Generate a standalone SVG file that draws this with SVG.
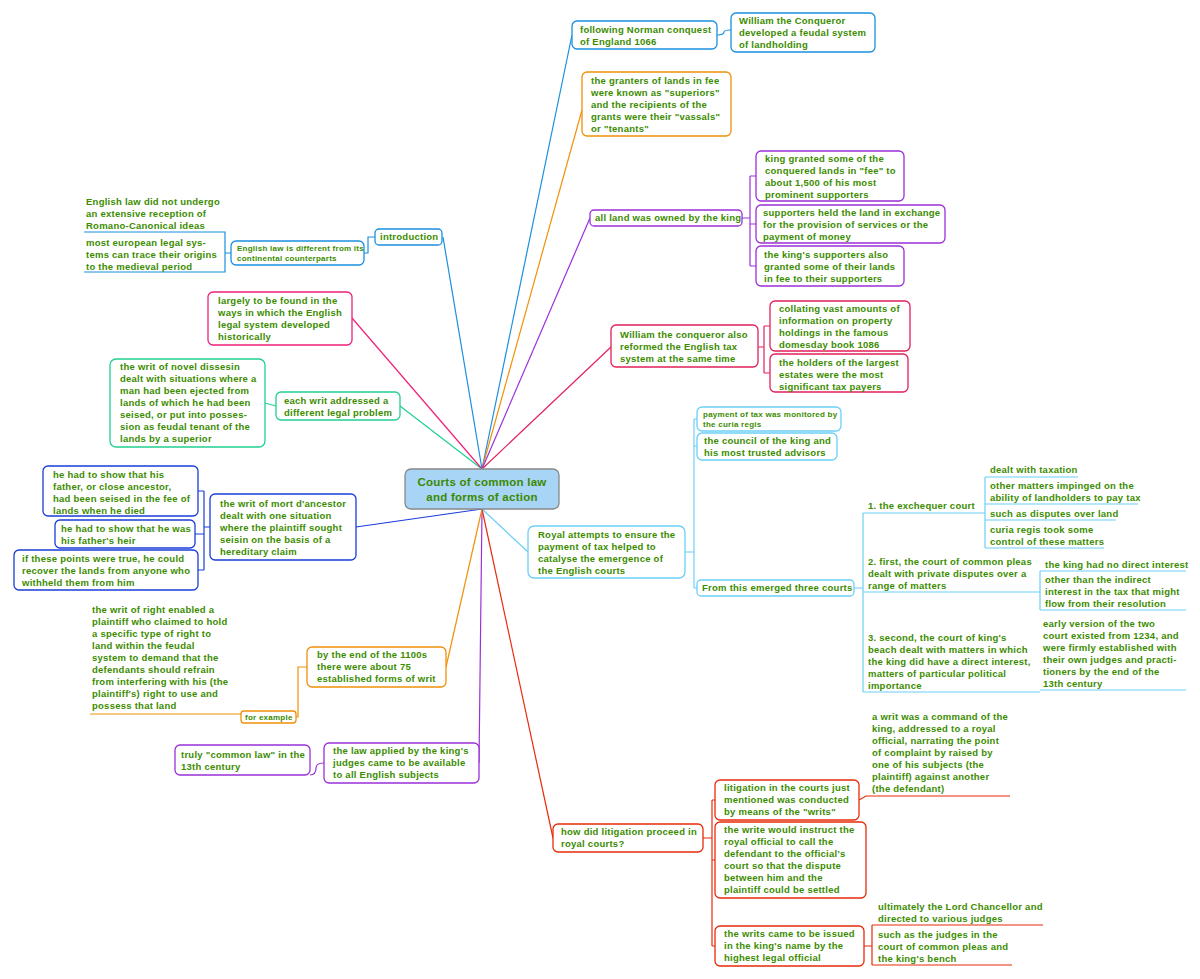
<svg xmlns="http://www.w3.org/2000/svg" width="1200" height="979" viewBox="0 0 1200 979">
<style>
text{font-family:"Liberation Sans",Arial,sans-serif;font-weight:bold;font-size:9.5px;fill:#3c8c00;letter-spacing:0.25px}
.s{font-size:8px}
.c{font-size:11.5px;fill:#3a8a00}
rect{fill:#fff;stroke-width:1.3}
path{fill:none;stroke-width:1.2}
.b1{stroke:#1a90e0}.or{stroke:#f0900a}.pu{stroke:#9b30d9}.cr{stroke:#e0205a}.lb{stroke:#6cd0f5}.rd{stroke:#e82a0a}.db{stroke:#1a3cd9}.gr{stroke:#20d090}.pk{stroke:#f0207a}
</style>
<rect width="1200" height="979" fill="#fff" stroke="none"/>
<g id="connectors">
<path class="b1" d="M482 469 L572 35"/><path class="b1" d="M717 35 Q724 35 724 32 Q724 30 731 30"/>
<path class="or" d="M482 469 L582 110"/>
<path class="pu" d="M482 469 L590 218"/>
<path class="pu" d="M742 218 L750 218 M750 176 L750 266 M750 176 Q750 176 756 176 M750 224 L756 224 M750 266 L756 266"/>
<path class="cr" d="M482 469 L611 347"/>
<path class="cr" d="M758 347 L764 347 M764 326 L764 373 M764 326 L770 326 M764 373 L770 373"/>
<path class="lb" d="M482 509 L528 552"/>
<path class="lb" d="M685 552 L694 552 M694 419 L694 588 M694 419 L697 419 M694 446 L697 446 M694 588 L697 588"/>
<path class="lb" d="M854 588 L863 588 M863 513 L863 692 M863 513 L978 513 M863 592 L1038 592 M863 692 L1040 692"/>
<path class="lb" d="M978 513 L985 513 M985 477 L985 548 M985 477 L1078 477 M985 504 L1138 504 M985 520 L1116 520 M985 548 L1104 548"/>
<path class="lb" d="M1038 592 L1040 592 M1040 571 L1040 610 M1040 571 L1186 571 M1040 610 L1186 610"/>
<path class="lb" d="M1040 690 L1186 690"/>
<path class="rd" d="M482 509 L553 838"/>
<path class="rd" d="M703 838 L712 838 M712 800 L712 946 M712 800 L715 800 M712 860 L715 860 M712 946 L715 946"/>
<path class="rd" d="M859 800 L866 796 L1010 796"/>
<path class="rd" d="M864 946 L872 946 M872 925 L872 965 M872 925 L1043 925 M872 965 L1012 965"/>
<path class="pu" d="M482 509 L479 763"/>
<path class="pu" d="M324 763 Q316 763 316 768 Q316 775 310 775"/>
<path class="or" d="M482 509 L446 667"/>
<path class="or" d="M307 667 L298 667 L298 717 L296 717 M241 714 L90 714"/>
<path class="db" d="M482 509 L356 527"/>
<path class="db" d="M210 527 L204 527 M204 491 L204 570 M204 491 L198 491 M204 534 L195 534 M204 570 L198 570"/>
<path class="gr" d="M482 469 L400 406"/><path class="gr" d="M276 406 L265 403"/>
<path class="pk" d="M482 469 L352 318"/>
<path class="b1" d="M482 469 L443 237 M375 237 L368 237 L368 253 L364 253 M231 253 L225 253 L225 232 L84 232 M225 253 L225 272 L84 272"/>
</g>
<g id="center"><rect x="405" y="469" width="154" height="40" rx="6" style="fill:#a8d4f5;stroke:#888"/><text class="c" x="482" y="486" text-anchor="middle">Courts of common law</text><text class="c" x="482" y="501" text-anchor="middle">and forms of action</text></g>
<g id="n1"><rect class="b1" x="572" y="21" width="145" height="28" rx="5"/><text x="580" y="33">following Norman conquest</text><text x="580" y="45">of England 1066</text></g>
<g id="n1a"><rect class="b1" x="731" y="13" width="144" height="39" rx="5"/><text x="739" y="24">William the Conqueror</text><text x="739" y="36">developed a feudal system</text><text x="739" y="48">of landholding</text></g>
<g id="n2"><rect class="or" x="582" y="72" width="149" height="64" rx="5"/><text x="591" y="84">the granters of lands in fee</text><text x="591" y="96">were known as "superiors"</text><text x="591" y="108">and the recipients of the</text><text x="591" y="120">grants were their "vassals"</text><text x="591" y="132">or "tenants"</text></g>
<g id="n3"><rect class="pu" x="590" y="210" width="152" height="16" rx="4"/><text x="595" y="221">all land was owned by the king</text></g>
<g id="n3a"><rect class="pu" x="756" y="151" width="148" height="50" rx="5"/><text x="765" y="162">king granted some of the</text><text x="765" y="174">conquered lands in "fee" to</text><text x="765" y="186">about 1,500 of his most</text><text x="765" y="198">prominent supporters</text></g>
<g id="n3b"><rect class="pu" x="756" y="205" width="189" height="38" rx="5"/><text x="763" y="216">supporters held the land in exchange</text><text x="763" y="228">for the provision of services or the</text><text x="763" y="240">payment of money</text></g>
<g id="n3c"><rect class="pu" x="756" y="246" width="148" height="40" rx="5"/><text x="764" y="258">the king's supporters also</text><text x="764" y="270">granted some of their lands</text><text x="764" y="282">in fee to their supporters</text></g>
<g id="n4"><rect class="cr" x="611" y="325" width="147" height="42" rx="5"/><text x="620" y="338">William the conqueror also</text><text x="620" y="350">reformed the English tax</text><text x="620" y="362">system at the same time</text></g>
<g id="n4a"><rect class="cr" x="770" y="301" width="140" height="50" rx="5"/><text x="779" y="312">collating vast amounts of</text><text x="779" y="324">information on property</text><text x="779" y="336">holdings in the famous</text><text x="779" y="348">domesday book 1086</text></g>
<g id="n4b"><rect class="cr" x="770" y="354" width="138" height="38" rx="5"/><text x="779" y="366">the holders of the largest</text><text x="779" y="378">estates were the most</text><text x="779" y="390">significant tax payers</text></g>
<g id="n5"><rect class="lb" x="528" y="526" width="157" height="52" rx="6"/><text x="538" y="538">Royal attempts to ensure the</text><text x="538" y="550">payment of tax helped to</text><text x="538" y="562">catalyse the emergence of</text><text x="538" y="574">the English courts</text></g>
<g id="n5a"><rect class="lb" x="697" y="407" width="144" height="24" rx="5"/><text class="s" x="703" y="417">payment of tax was monitored by</text><text class="s" x="703" y="427">the curia regis</text></g>
<g id="n5b"><rect class="lb" x="697" y="433" width="140" height="27" rx="5"/><text x="704" y="444">the council of the king and</text><text x="704" y="456">his most trusted advisors</text></g>
<g id="n5c"><rect class="lb" x="697" y="580" width="157" height="16" rx="4"/><text x="702" y="591">From this emerged three courts</text></g>
<g id="n5d"><text x="868" y="509">1. the exchequer court</text></g>
<g id="n5e"><text x="868" y="565">2. first, the court of common pleas</text><text x="868" y="577">dealt with private disputes over a</text><text x="868" y="589">range of matters</text></g>
<g id="n5f"><text x="868" y="641">3. second, the court of king's</text><text x="868" y="653">beach dealt with matters in which</text><text x="868" y="665">the king did have a direct interest,</text><text x="868" y="677">matters of particular political</text><text x="868" y="689">importance</text></g>
<g id="n5g"><text x="990" y="473">dealt with taxation</text></g>
<g id="n5h"><text x="990" y="489">other matters impinged on the</text><text x="990" y="501">ability of landholders to pay tax</text></g>
<g id="n5i"><text x="990" y="517">such as disputes over land</text></g>
<g id="n5j"><text x="990" y="533">curia regis took some</text><text x="990" y="545">control of these matters</text></g>
<g id="n5k"><text x="1045" y="568">the king had no direct interest</text></g>
<g id="n5l"><text x="1045" y="583">other than the indirect</text><text x="1045" y="595">interest in the tax that might</text><text x="1045" y="607">flow from their resolution</text></g>
<g id="n5m"><text x="1043" y="627">early version of the two</text><text x="1043" y="639">court existed from 1234, and</text><text x="1043" y="651">were firmly established with</text><text x="1043" y="663">their own judges and practi-</text><text x="1043" y="675">tioners by the end of the</text><text x="1043" y="687">13th century</text></g>
<g id="n6"><rect class="rd" x="553" y="824" width="150" height="28" rx="5"/><text x="561" y="835">how did litigation proceed in</text><text x="561" y="847">royal courts?</text></g>
<g id="n6a"><rect class="rd" x="715" y="780" width="144" height="40" rx="5"/><text x="724" y="791">litigation in the courts just</text><text x="724" y="803">mentioned was conducted</text><text x="724" y="815">by means of the "writs"</text></g>
<g id="n6b"><rect class="rd" x="715" y="822" width="151" height="76" rx="5"/><text x="724" y="833">the write would instruct the</text><text x="724" y="845">royal official to call the</text><text x="724" y="857">defendant to the official's</text><text x="724" y="869">court so that the dispute</text><text x="724" y="881">between him and the</text><text x="724" y="893">plaintiff could be settled</text></g>
<g id="n6c"><rect class="rd" x="715" y="926" width="149" height="40" rx="5"/><text x="724" y="937">the writs came to be issued</text><text x="724" y="949">in the king's name by the</text><text x="724" y="961">highest legal official</text></g>
<g id="n6d"><text x="872" y="720">a writ was a command of the</text><text x="872" y="732">king, addressed to a royal</text><text x="872" y="744">official, narrating the point</text><text x="872" y="756">of complaint by raised by</text><text x="872" y="768">one of his subjects  (the</text><text x="872" y="780">plaintiff) against another</text><text x="872" y="792">(the defendant)</text></g>
<g id="n6e"><text x="878" y="910">ultimately the Lord Chancellor and</text><text x="878" y="922">directed to various judges</text></g>
<g id="n6f"><text x="878" y="938">such as the judges in the</text><text x="878" y="950">court of common pleas and</text><text x="878" y="962">the king's bench</text></g>
<g id="n7"><rect class="pu" x="324" y="743" width="155" height="40" rx="5"/><text x="333" y="754">the law applied by the king's</text><text x="333" y="766">judges came to be available</text><text x="333" y="778">to all English subjects</text></g>
<g id="n7a"><rect class="pu" x="175" y="745" width="135" height="30" rx="5"/><text x="181" y="758">truly "common law" in the</text><text x="181" y="770">13th century</text></g>
<g id="n8"><rect class="or" x="307" y="647" width="139" height="40" rx="5"/><text x="317" y="658">by the end of the 1100s</text><text x="317" y="670">there were about 75</text><text x="317" y="682">established forms of writ</text></g>
<g id="n8a"><rect class="or" x="241" y="711" width="55" height="12" rx="3"/><text class="s" x="245" y="720">for example</text></g>
<g id="n8b"><text x="92" y="613">the writ of right enabled a</text><text x="92" y="625">plaintiff who claimed to hold</text><text x="92" y="637">a specific type of right to</text><text x="92" y="649">land within the feudal</text><text x="92" y="661">system to demand that the</text><text x="92" y="673">defendants should refrain</text><text x="92" y="685">from interfering with his (the</text><text x="92" y="697">plaintiff's) right to use and</text><text x="92" y="709">possess that land</text></g>
<g id="n9"><rect class="db" x="210" y="494" width="146" height="66" rx="5"/><text x="220" y="507">the writ of mort d'ancestor</text><text x="220" y="519">dealt with one situation</text><text x="220" y="531">where the plaintiff sought</text><text x="220" y="543">seisin on the basis of a</text><text x="220" y="555">hereditary claim</text></g>
<g id="n9a"><rect class="db" x="43" y="466" width="155" height="50" rx="5"/><text x="53" y="478">he had to show that his</text><text x="53" y="490">father, or close ancestor,</text><text x="53" y="502">had been seised in the fee of</text><text x="53" y="514">lands when he died</text></g>
<g id="n9b"><rect class="db" x="55" y="520" width="140" height="28" rx="5"/><text x="61" y="532">he had to show that he was</text><text x="61" y="544">his father's heir</text></g>
<g id="n9c"><rect class="db" x="14" y="550" width="184" height="40" rx="5"/><text x="22" y="562">if these points were true, he could</text><text x="22" y="574">recover the lands from anyone who</text><text x="22" y="586">withheld them from him</text></g>
<g id="n10"><rect class="gr" x="276" y="392" width="124" height="28" rx="5"/><text x="284" y="404">each writ addressed a</text><text x="284" y="416">different legal problem</text></g>
<g id="n10a"><rect class="gr" x="110" y="359" width="155" height="88" rx="6"/><text x="120" y="370">the writ of novel dissesin</text><text x="120" y="382">dealt with situations where a</text><text x="120" y="394">man had been ejected from</text><text x="120" y="406">lands of which he had been</text><text x="120" y="418">seised, or put into posses-</text><text x="120" y="430">sion as feudal tenant of the</text><text x="120" y="442">lands by a superior</text></g>
<g id="n11"><rect class="pk" x="208" y="292" width="144" height="53" rx="5"/><text x="218" y="304">largely to be found in the</text><text x="218" y="316">ways in which the English</text><text x="218" y="328">legal system developed</text><text x="218" y="340">historically</text></g>
<g id="n12"><rect class="b1" x="375" y="229" width="67" height="16" rx="4"/><text x="380" y="240">introduction</text></g>
<g id="n12a"><rect class="b1" x="231" y="241" width="133" height="24" rx="5"/><text class="s" x="237" y="251">English law is different from its</text><text class="s" x="237" y="261">continental counterparts</text></g>
<g id="n12b"><text x="86" y="205">English law did not undergo</text><text x="86" y="217">an extensive reception of</text><text x="86" y="229">Romano-Canonical ideas</text></g>
<g id="n12c"><text x="86" y="246">most european legal sys-</text><text x="86" y="258">tems can trace their origins</text><text x="86" y="270">to the medieval period</text></g>
</svg>
